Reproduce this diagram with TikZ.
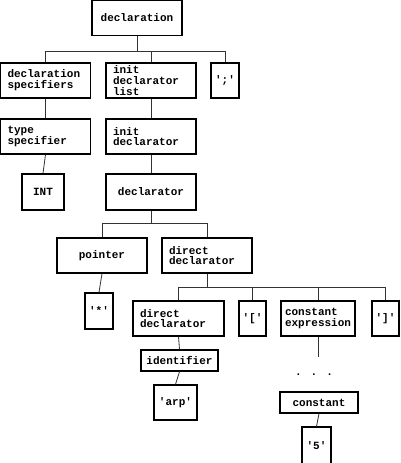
\documentclass[tikz,border=0pt]{standalone}
\usepackage{fontspec}
\setmonofont{Liberation Mono}
\begin{document}
\begin{tikzpicture}[x=1pt,y=-1pt,
  box/.style={draw=black, line width=1.3pt, fill=white, inner xsep=7pt, inner ysep=0pt,
    font=\ttfamily\bfseries\fontsize{11}{10.7}\selectfont, minimum height=35pt},
  lbox/.style={box, align=left},
  cbox/.style={box, align=center},
  wire/.style={draw=black!80, line width=0.8pt},
  dots/.style={font=\ttfamily\bfseries\fontsize{11}{11}\selectfont, inner sep=0pt}]
\useasboundingbox[fill=white] (0,0) rectangle (400,463);
% level 0
\node[cbox, minimum width=90pt] (decl) at (137,18) {declaration};
% level 1
\node[lbox, text width=76pt] (declspec) at (45.5,80.5) {declaration\\specifiers};
\node[lbox, text width=76pt] (initlist) at (151,80.5) {init\\declarator\\list};
\node[cbox, minimum width=28pt, inner xsep=2pt] (semi) at (225,80.5) {';'};
% level 2
\node[lbox, text width=76pt] (typespec) at (45.5,136.5) {type\\specifier};
\node[lbox, text width=76pt] (initdecl) at (151,136.5) {init\\declarator};
% level 3
\node[cbox, minimum width=42pt, minimum height=36pt] (int) at (43,192) {INT};
\node[cbox, minimum width=90pt, minimum height=36pt] (declarator) at (151,192) {declarator};
% level 4
\node[cbox, minimum width=90pt] (pointer) at (102,255.5) {pointer};
\node[lbox, text width=76pt] (dd1) at (207,255.5) {direct\\declarator};
% level 5
\node[cbox, minimum width=28pt, minimum height=36pt, inner xsep=2pt] (star) at (99,311) {'*'};
\node[lbox, text width=77pt] (dd2) at (178.5,318.5) {direct\\declarator};
\node[cbox, minimum width=27pt, inner xsep=2pt] (lbr) at (252.5,318.5) {'['};
\node[lbox, text width=66pt, inner xsep=4pt] (cexpr) at (318,318.5) {constant\\expression};
\node[cbox, minimum width=27pt, inner xsep=2pt] (rbr) at (385.5,318.5) {']'};
% level 6
\node[cbox, minimum width=77pt, minimum height=21pt, inner xsep=3pt] (ident) at (179.5,360.5) {identifier};
\node[cbox, minimum width=43pt, inner xsep=3pt] (arp) at (175.5,402.5) {'arp'};
\coordinate (cexprend) at (318,357);
\node[dots] (ellipsis) at (314,375) {.\hspace{9pt}.\hspace{9pt}.};
\node[cbox, minimum width=78pt, minimum height=21pt, inner xsep=3pt] (constant) at (319,402.5) {constant};
\node[cbox, minimum width=29pt, minimum height=38pt, inner xsep=2pt] (five) at (316.5,446) {'5'};
% connectors
\begin{scope}[on background layer/.try]
\end{scope}
\path[wire] (decl.south) -- ++(0,15) -| (declspec.north);
\path[wire] (decl.south) -- ++(0,15) -| (initlist.north);
\path[wire] (decl.south) -- ++(0,15) -| (semi.north);
\path[wire] (declspec.south) -- (typespec.north);
\path[wire] (initlist.south) -- (initdecl.north);
\path[wire] (typespec.south) -- (int.north);
\path[wire] (initdecl.south) -- (declarator.north);
\path[wire] (declarator.south) -- ++(0,13) -| (pointer.north);
\path[wire] (declarator.south) -- ++(0,13) -| (dd1.north);
\path[wire] (pointer.south) -- (star.north);
\path[wire] (dd1.south) -- ++(0,14) -| (dd2.north);
\path[wire] (dd1.south) -- ++(0,14) -| (lbr.north);
\path[wire] (dd1.south) -- ++(0,14) -| (cexpr.north);
\path[wire] (dd1.south) -- ++(0,14) -| (rbr.north);
\path[wire] (dd2.south) -- (ident.north);
\path[wire] (ident.south) -- (arp.north);
\path[wire] (cexpr.south) -- (cexprend);
\path[wire] (constant.south) -- (five.north);
\end{tikzpicture}
\end{document}
